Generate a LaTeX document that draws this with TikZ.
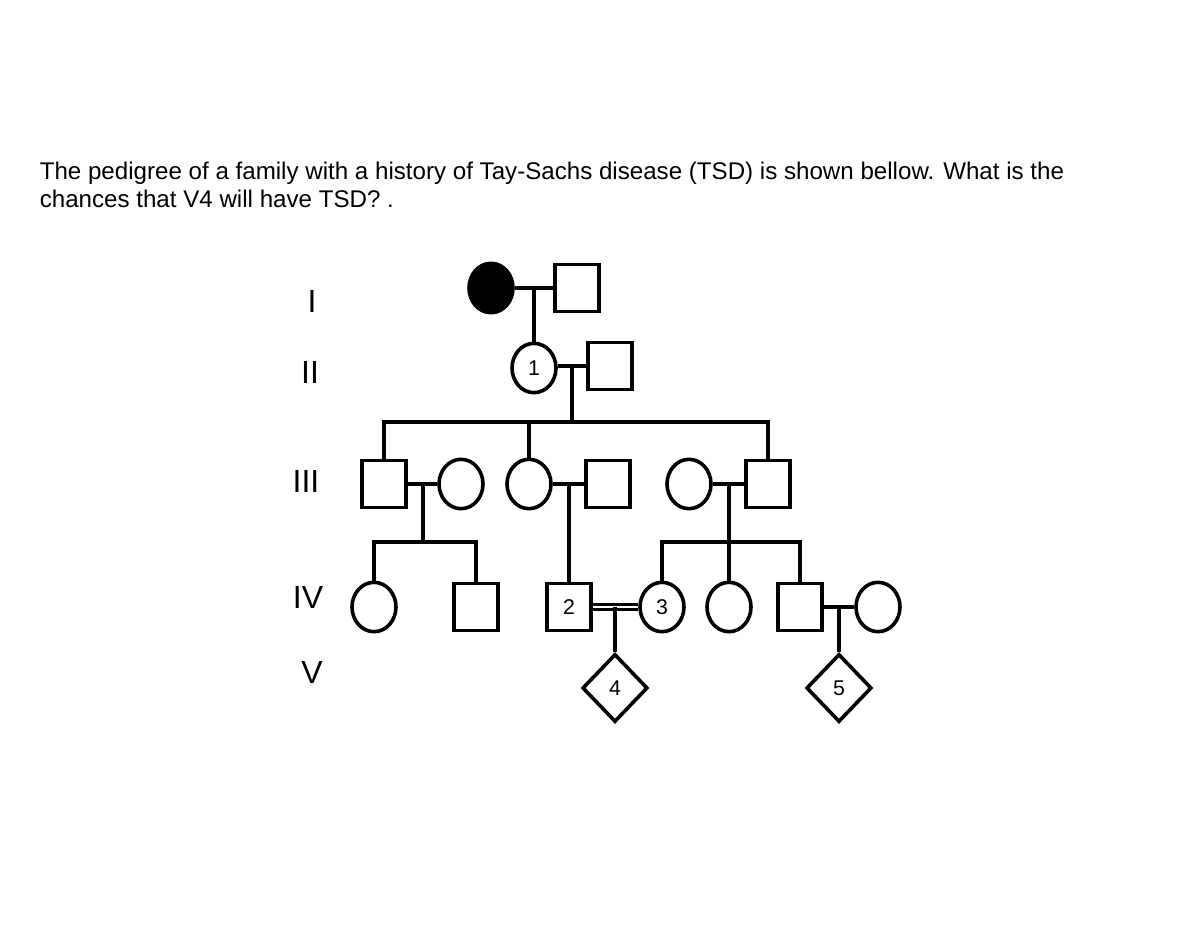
\documentclass[tikz,border=0pt]{standalone}
\usepackage{fontspec}
\setmainfont{Liberation Sans}
\usetikzlibrary{shapes.geometric}
\begin{document}
\begin{tikzpicture}[x=0.75pt,y=-0.75pt,
  line width=2.7pt,
  fem/.style={ellipse,draw,inner sep=0pt,minimum width=33pt,minimum height=37pt,font=\fontsize{16}{18}\selectfont},
  mal/.style={rectangle,draw,inner sep=0pt,minimum width=33pt,minimum height=35pt,font=\fontsize{16}{18}\selectfont},
  unk/.style={diamond,draw,inner sep=0pt,minimum width=49pt,minimum height=51pt,font=\fontsize{16}{18}\selectfont},
  gen/.style={anchor=base,font=\fontsize{24}{28}\selectfont},
  qtext/.style={anchor=base west,inner sep=0pt,font=\fontsize{18.1}{22}\selectfont}]
\useasboundingbox (0,0) rectangle (1200,927);
% question text
\node[qtext] (q1) at (38,180) {The pedigree of a family with a history of Tay-Sachs disease (TSD) is shown bellow. What is the};
\node[qtext] (q2) at (38,208) {chances that V4 will have TSD? .};
% generation labels
\node[gen] (gI) at (312,313) {I};
\node[gen] (gII) at (310,383) {II};
\node[gen] (gIII) at (306,492) {III};
\node[gen] (gIV) at (308,608) {IV};
\node[gen] (gV) at (312,683) {V};
% generation I
\node[fem,fill=black] (I1) at (491,288) {};
\node[mal] (I2) at (577,288) {};
% generation II
\node[fem] (II1) at (534,368) {1};
\node[mal] (II2) at (610,366) {};
% generation III
\node[mal] (III1) at (384,484) {};
\node[fem] (III2) at (461,484) {};
\node[fem] (III3) at (529,484) {};
\node[mal] (III4) at (608,484) {};
\node[fem] (III5) at (689,484) {};
\node[mal] (III6) at (768,484) {};
% generation IV
\node[fem] (IV1) at (374,607) {};
\node[mal] (IV2) at (476,607) {};
\node[mal] (IV3) at (569,607) {2};
\node[fem] (IV4) at (662,607) {3};
\node[fem] (IV5) at (729,607) {};
\node[mal] (IV6) at (800,607) {};
\node[fem] (IV7) at (878,607) {};
% generation V
\node[unk] (V4) at (615,688) {4};
\node[unk] (V5) at (839,688) {5};
% helper coordinates
\coordinate (m1) at (534,288);
\coordinate (m2) at (572,366);
\coordinate (s3) at (572,422);
\coordinate (m3a) at (423,484);
\coordinate (s4a) at (423,542);
\coordinate (m3b) at (569,484);
\coordinate (m3c) at (729,484);
\coordinate (s4c) at (729,542);
\coordinate (m4a) at (615,607);
\coordinate (m4b) at (839,607);
% connectors
\draw (I1.east) -- (I2.west);
\draw (m1) -- (II1.north);
\draw (II1.east |- m2) -- (II2.west |- m2);
\draw (m2) -- (s3);
\draw (III1.north) |- (III6.north |- s3) -- (III6.north);
\draw (III3.north) -- (III3.north |- s3);
\draw (III1.east) -- (III2.west);
\draw (III3.east) -- (III4.west);
\draw (III5.east) -- (III6.west);
\draw (m3a) -- (s4a);
\draw (IV1.north) |- (IV2.north |- s4a) -- (IV2.north);
\draw (m3b) -- (IV3.north);
\draw (m3c) -- (s4c);
\draw (IV4.north) |- (IV6.north |- s4c) -- (IV6.north);
\draw (IV5.north) -- (IV5.north |- s4c);
\draw[line width=1.6pt] ([yshift=1.9pt]IV3.east) -- ([yshift=1.9pt]IV4.west);
\draw[line width=1.6pt] ([yshift=-1.9pt]IV3.east) -- ([yshift=-1.9pt]IV4.west);
\draw (m4a) -- (V4.north);
\draw (IV6.east) -- (IV7.west);
\draw (m4b) -- (V5.north);
\end{tikzpicture}
\end{document}
